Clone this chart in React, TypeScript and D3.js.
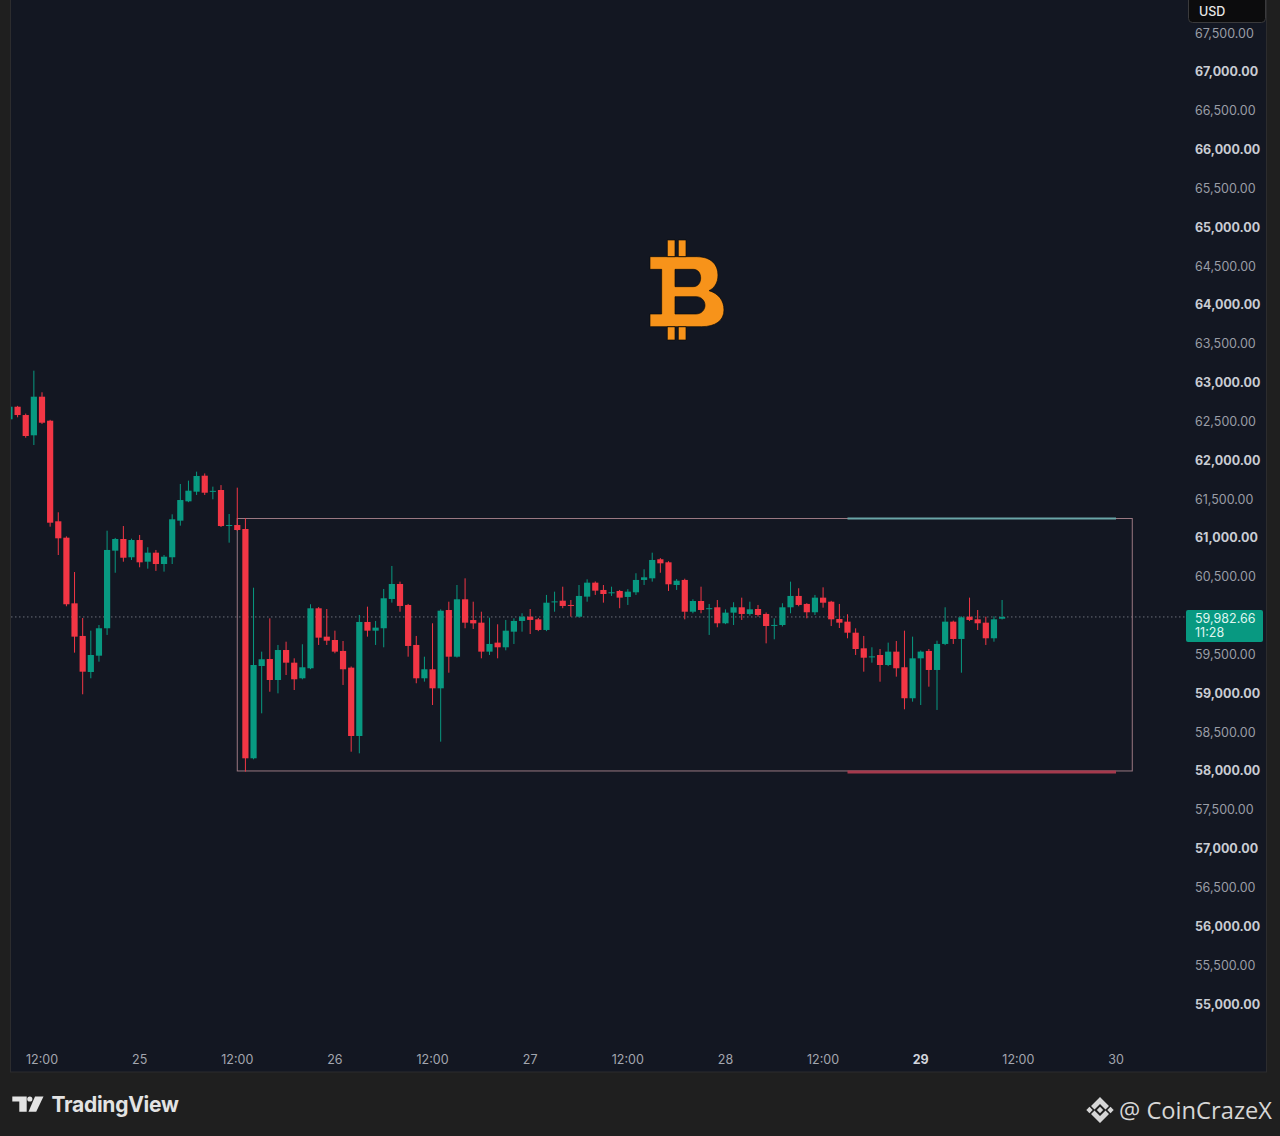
import React from 'react';
import * as d3 from 'd3';

// ---- data ----
const firstHour = 8; // hours since 24th 00:00 of the first candle (1h candles)
const ohlc: [number, number, number, number][] = [
  [62527, 62720, 62500, 62689], [62689, 62700, 62553, 62582], [62582, 62600, 62290, 62312],
  [62321, 63153, 62196, 62818], [62818, 62875, 62467, 62483], [62509, 62520, 61145, 61196],
  [61214, 61330, 60780, 60995], [61003, 61020, 60120, 60146], [60158, 60561, 59523, 59729],
  [59738, 59969, 58987, 59278], [59274, 59806, 59193, 59493], [59484, 59879, 59407, 59837],
  [59837, 61093, 59751, 60845], [60836, 61000, 60552, 60986], [60986, 61153, 60694, 60745],
  [60751, 60990, 60716, 60973], [60973, 61038, 60622, 60686], [60694, 60880, 60604, 60810],
  [60810, 60845, 60575, 60664], [60664, 60780, 60566, 60758], [60751, 61304, 60664, 61240],
  [61222, 61694, 61158, 61488], [61471, 61737, 61460, 61608], [61595, 61853, 61553, 61797],
  [61801, 61830, 61553, 61582], [61598, 61660, 61497, 61606], [61617, 61680, 61140, 61153],
  [61160, 61308, 60939, 61166], [61166, 61647, 61090, 61102], [61115, 61253, 57991, 58163],
  [58163, 60359, 58150, 59364], [59351, 59536, 58742, 59438], [59441, 59965, 59020, 59171],
  [59171, 59622, 58999, 59557], [59557, 59664, 59235, 59394], [59394, 59450, 59042, 59180],
  [59193, 59631, 59180, 59335], [59322, 60146, 59310, 60094], [60094, 60110, 59622, 59716],
  [59729, 60085, 59622, 59677], [59686, 59806, 59515, 59536], [59545, 59673, 59107, 59309],
  [59330, 59345, 58248, 58450], [58450, 60008, 58227, 59918], [59918, 60115, 59729, 59806],
  [59806, 59931, 59622, 59845], [59837, 60343, 59592, 60223], [60214, 60639, 60167, 60407],
  [60407, 60437, 60050, 60124], [60137, 60150, 59471, 59609], [59622, 59738, 59129, 59193],
  [59193, 59471, 59150, 59309], [59309, 59901, 58849, 59064], [59064, 60080, 58377, 60063],
  [60072, 60179, 59265, 59471], [59471, 60394, 59460, 60210], [60210, 60480, 59837, 59909],
  [59943, 60179, 59828, 59900], [59909, 60050, 59450, 59536], [59536, 59973, 59493, 59635],
  [59652, 59888, 59450, 59592], [59592, 59944, 59553, 59806], [59793, 59965, 59635, 59931],
  [59931, 60030, 59793, 59986], [59986, 60085, 59763, 59944], [59952, 59970, 59800, 59815],
  [59815, 60266, 59800, 60166], [60170, 60308, 60050, 60183], [60192, 60372, 60095, 60124],
  [60137, 60201, 59986, 60128], [59986, 60394, 59975, 60253], [60244, 60467, 60179, 60424],
  [60424, 60440, 60266, 60321], [60330, 60394, 60167, 60278], [60290, 60372, 60253, 60300],
  [60317, 60330, 60095, 60231], [60240, 60340, 60137, 60308], [60300, 60545, 60266, 60459],
  [60459, 60596, 60394, 60493], [60480, 60810, 60437, 60716], [60725, 60740, 60552, 60673],
  [60686, 60700, 60317, 60403], [60394, 60470, 60330, 60449], [60459, 60475, 59952, 60050],
  [60050, 60210, 60030, 60188], [60188, 60372, 60030, 60072], [60090, 60150, 59751, 60095],
  [60107, 60201, 59850, 59901], [59901, 60080, 59890, 60038], [60038, 60172, 59879, 60107],
  [60107, 60231, 59944, 60021], [60021, 60179, 60000, 60081], [60085, 60137, 59986, 60008],
  [60021, 60040, 59643, 59866], [59875, 59965, 59695, 59880], [59879, 60159, 59860, 60107],
  [60107, 60437, 60030, 60253], [60253, 60352, 60120, 60137], [60150, 60160, 59965, 60043],
  [60043, 60266, 60008, 60231], [60231, 60364, 60102, 60166], [60179, 60190, 59866, 59952],
  [59956, 60150, 59840, 59909], [59922, 60017, 59708, 59780], [59780, 59836, 59493, 59570],
  [59579, 59738, 59278, 59458], [59470, 59592, 59394, 59475], [59493, 59570, 59149, 59364],
  [59364, 59652, 59350, 59536], [59536, 59673, 59214, 59322], [59335, 59806, 58794, 58936],
  [58936, 59729, 58892, 59450], [59450, 59550, 58849, 59536], [59545, 59570, 59085, 59300],
  [59300, 59677, 58785, 59635], [59635, 60107, 59620, 59922], [59922, 59935, 59635, 59699],
  [59699, 59990, 59265, 59978], [59986, 60231, 59930, 59944], [59952, 60072, 59815, 59901],
  [59909, 59986, 59622, 59708], [59708, 59990, 59664, 59952], [59960, 60201, 59950, 59982.66],
];

const priceTicks = [
  55000, 55500, 56000, 56500, 57000, 57500, 58000, 58500, 59000, 59500, 60000, 60500,
  61000, 61500, 62000, 62500, 63000, 63500, 64000, 64500, 65000, 65500, 66000, 66500, 67000, 67500,
];
const timeTickHours = [12, 24, 36, 48, 60, 72, 84, 96, 108, 120, 132, 144];
const timeTickLabels = ['12:00', '25', '12:00', '26', '12:00', '27', '12:00', '28', '12:00', '29', '12:00', '30'];
const boldTimeLabels = ['29'];

const lastPrice = 59982.66;
const countdown = '11:28';
const currency = 'USD';

const rangeTop = 61250;
const rangeBottom = 58000;
const rangeStartHour = 36;
const rangeEndHour = 146;
const targetStartHour = 111;
const targetEndHour = 144;

// ---- styles ----
const UP = '#089981';
const DOWN = '#f23645';
const FONT = "Inter, 'Noto Sans', Roboto, sans-serif";

export default function App() {
  const W = 1280;
  const H = 1136;
  const panel = { x: 10.5, y: -1, w: 1256, h: 1073 };

  const x = d3.scaleLinear().domain([12, 144]).range([42, 1116]);
  const y = d3.scaleLinear().domain([55000, 67500]).range([1004, 33]);
  const bodyW = 6.2;
  const fmt = d3.format(',.2f');

  const ly = y(lastPrice);
  // price-axis labels hidden behind the last-price label (as TradingView does)
  const visibleTicks = priceTicks.filter((t) => {
    const ty = y(t);
    return ty < ly - 14 || ty > ly + 32;
  });

  return (
    <svg
      width={W}
      height={H}
      style={{ position: 'absolute', left: 0, top: 0, display: 'block' }}
      fontFamily={FONT}
    >
      <defs>
        <clipPath id="plotClip">
          <rect x={11} y={0} width={1174} height={1040} />
        </clipPath>
      </defs>
      <rect x={0} y={0} width={W} height={H} fill="#1f1f1f" />
      <rect x={panel.x} y={panel.y} width={panel.w} height={panel.h} fill="#131722" stroke="#2c2c2e" strokeWidth={1} />

      {/* last price dotted line */}
      <line x1={11} x2={1186} y1={ly} y2={ly} stroke="#6a6d78" strokeWidth={1} strokeDasharray="1.5 2.5" />

      {/* range box */}
      <rect
        x={x(rangeStartHour)}
        y={y(rangeTop)}
        width={x(rangeEndHour) - x(rangeStartHour)}
        height={y(rangeBottom) - y(rangeTop)}
        fill="none"
        stroke="#9a7882"
        strokeWidth={1}
      />
      <line x1={x(targetStartHour)} x2={x(targetEndHour)} y1={y(rangeTop)} y2={y(rangeTop)} stroke="#6aa5a7" strokeWidth={2} />
      <line x1={x(targetStartHour)} x2={x(targetEndHour)} y1={y(rangeBottom) + 1} y2={y(rangeBottom) + 1} stroke="#a53a4d" strokeWidth={3} />

      {/* candles */}
      <g clipPath="url(#plotClip)">
        {ohlc.map(([o, h, l, c], i) => {
          const cx = x(firstHour + i);
          const col = c >= o ? UP : DOWN;
          const top = y(Math.max(o, c));
          const bot = y(Math.min(o, c));
          const bh = Math.max(1, bot - top);
          return (
            <g key={i}>
              <line x1={cx} x2={cx} y1={y(h)} y2={y(l)} stroke={col} strokeWidth={1} />
              <rect x={cx - bodyW / 2} y={top} width={bodyW} height={bh} fill={col} />
            </g>
          );
        })}
      </g>

      {/* bitcoin logo */}
      <g transform="translate(630,230) scale(0.3333)">
        <path
          fillRule="evenodd"
          fill="#f7931a"
          stroke="#0a0a0a"
          strokeWidth={2}
          d="M60,80 L200,80 C245,80 264,105 264,135 C264,160 252,175 237,182 C264,190 282,210 282,240 C282,272 256,290 215,290 L60,290 L60,252 L95,252 L95,118 L60,118 Z
             M135,118 L190,118 C204,118 212,130 212,144 C212,158 204,170 190,170 L135,170 Z
             M135,200 L198,200 C214,200 225,212 225,226 C225,240 214,252 198,252 L135,252 Z
             M112,30 h23 v50 h-23 Z M145,30 h23 v50 h-23 Z M112,290 h23 v40 h-23 Z M145,290 h23 v40 h-23 Z"
        />
      </g>

      {/* price axis */}
      {visibleTicks.map((t) => {
        const bold = t % 1000 === 0;
        return (
          <text
            key={t}
            x={1195}
            y={y(t)}
            dominantBaseline="central"
            fontSize={12.5}
            fontWeight={bold ? 700 : 400}
            fill={bold ? '#c9ccd3' : '#9a9da6'}
          >
            {fmt(t)}
          </text>
        );
      })}

      {/* currency box */}
      <rect x={1188.5} y={-4} width={77} height={26.5} rx={4} fill="#0c0c0d" stroke="#3a3a3c" strokeWidth={1} />
      <text x={1199} y={11} dominantBaseline="central" fontSize={12.5} fontWeight={500} fill="#e8e8e8">
        {currency}
      </text>

      {/* last price label */}
      <rect x={1186} y={ly - 7} width={77} height={32} rx={2} fill={UP} />
      <text x={1195} y={ly + 1.5} dominantBaseline="central" fontSize={12.5} fill="#dff5ef">
        {fmt(lastPrice)}
      </text>
      <text x={1195} y={ly + 15.5} dominantBaseline="central" fontSize={12.5} fill="#dff5ef">
        {countdown}
      </text>

      {/* time axis */}
      {timeTickHours.map((hh, i) => {
        const lab = timeTickLabels[i];
        const bold = boldTimeLabels.includes(lab);
        return (
          <text
            key={i}
            x={x(hh)}
            y={1059}
            textAnchor="middle"
            dominantBaseline="central"
            fontSize={12.5}
            fontWeight={bold ? 700 : 400}
            fill={bold ? '#d1d4dc' : '#a3a6af'}
          >
            {lab}
          </text>
        );
      })}

      {/* footer: TradingView */}
      <g fill="#e3e3e3">
        <path d="M12.3,1096.5 H26.7 V1111.8 H19.3 V1101.5 H12.3 Z" />
        <circle cx={29.8} cy={1099} r={2.6} />
        <path d="M35,1096.5 H43.5 L36.2,1111.8 H28.5 Z" />
      </g>
      <text x={51.5} y={1112} fontSize={22} fontWeight={700} fill="#e3e3e3" textLength={127} lengthAdjust="spacingAndGlyphs" letterSpacing={-0.3}>
        TradingView
      </text>

      {/* footer: @ CoinCrazeX with diamond icon */}
      <g fill="#d6d6d6" transform="translate(1100,1110)">
        <polygon points="0,-13 9,-4 5.5,-0.5 0,-6 -5.5,-0.5 -9,-4" />
        <polygon points="0,13 9,4 5.5,0.5 0,6 -5.5,0.5 -9,4" />
        <polygon points="-10.5,-3.2 -7.3,0 -10.5,3.2 -13.7,0" />
        <polygon points="10.5,-3.2 13.7,0 10.5,3.2 7.3,0" />
        <polygon points="0,-3.2 3.2,0 0,3.2 -3.2,0" />
      </g>
      <text x={1119} y={1118.5} fontSize={24} fontFamily="'Open Sans', 'Noto Sans', sans-serif" fill="#d6d6d6" textLength={153} lengthAdjust="spacingAndGlyphs">
        @ CoinCrazeX
      </text>
    </svg>
  );
}
